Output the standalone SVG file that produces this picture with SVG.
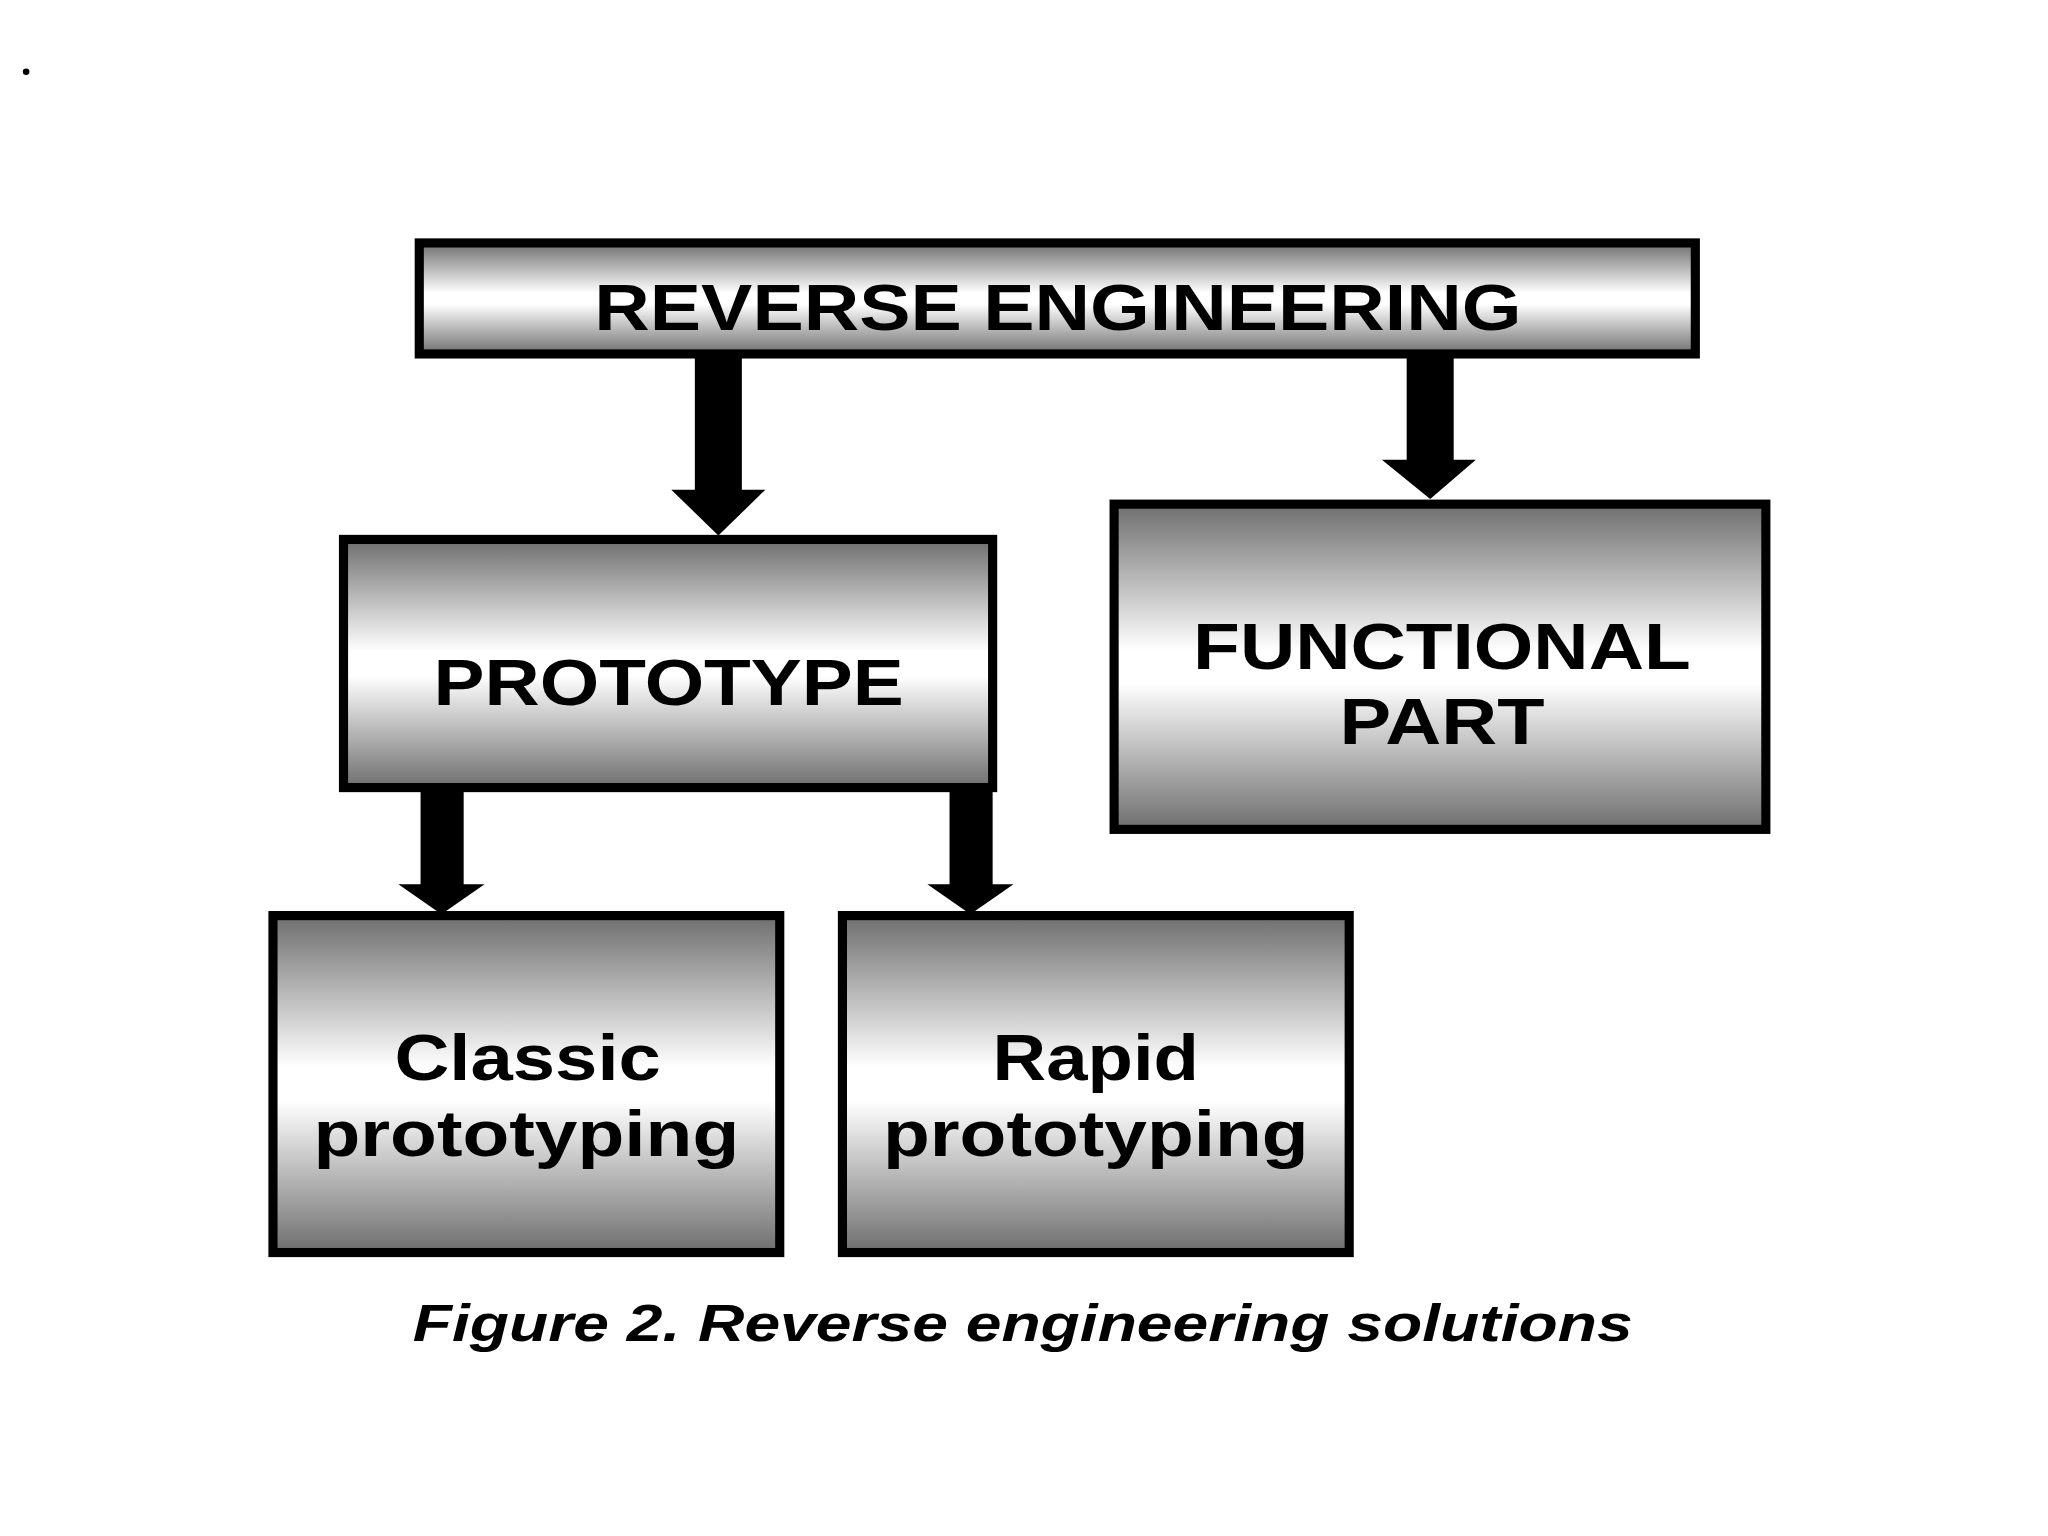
<svg xmlns="http://www.w3.org/2000/svg" width="2048" height="1536" viewBox="0 0 2048 1536">
<defs>
<linearGradient id="g" x1="0" y1="0" x2="0" y2="1">
<stop offset="0" stop-color="#6e6e6e"/><stop offset="0.45" stop-color="#ffffff"/><stop offset="0.55" stop-color="#ffffff"/><stop offset="1" stop-color="#6e6e6e"/>
</linearGradient>
<style>
.box{fill:url(#g);stroke:#000;stroke-width:7}
.t{font-family:"Liberation Sans",Arial,sans-serif;font-weight:bold;font-size:50px;text-anchor:middle;fill:#000}
.arr{fill:#000}
</style>
</defs>
<rect width="2048" height="1536" fill="#fff"/>
<g transform="scale(1.3061)">
<circle cx="20" cy="55" r="2.5" fill="#000"/>
<g id="connectors">
<polygon class="arr" points="532,271 568,271 568,375 586,375 550,410 514,375 532,375"/>
<polygon class="arr" points="1077,271 1113,271 1113,352 1130,352 1095,382 1058,352 1077,352"/>
<polygon class="arr" points="322,603 355,603 355,677 371,677 338,700 305,677 322,677"/>
<polygon class="arr" points="727,603 760,603 760,677 776,677 743,700 710,677 727,677"/>
</g>
<g id="re"><rect class="box" x="321" y="186" width="977" height="85"/>
<text class="t" x="810" y="253" textLength="710" lengthAdjust="spacingAndGlyphs">REVERSE ENGINEERING</text></g>
<g id="prototype"><rect class="box" x="263" y="413" width="497" height="190"/>
<text class="t" x="512" y="540" textLength="360" lengthAdjust="spacingAndGlyphs">PROTOTYPE</text></g>
<g id="functional"><rect class="box" x="853" y="386" width="499" height="249"/>
<text class="t" x="1104" y="512" textLength="381" lengthAdjust="spacingAndGlyphs">FUNCTIONAL</text>
<text class="t" x="1104" y="570" textLength="157" lengthAdjust="spacingAndGlyphs">PART</text></g>
<g id="classic"><rect class="box" x="209" y="701" width="388" height="258"/>
<text class="t" x="404" y="827" textLength="204" lengthAdjust="spacingAndGlyphs">Classic</text>
<text class="t" x="403" y="885" textLength="326" lengthAdjust="spacingAndGlyphs">prototyping</text></g>
<g id="rapid"><rect class="box" x="645" y="701" width="388" height="258"/>
<text class="t" x="839" y="827" textLength="158" lengthAdjust="spacingAndGlyphs">Rapid</text>
<text class="t" x="839" y="885" textLength="326" lengthAdjust="spacingAndGlyphs">prototyping</text></g>
<text x="783" y="1027" font-family="Liberation Sans,Arial,sans-serif" font-weight="bold" font-style="italic" font-size="40" text-anchor="middle" textLength="934" lengthAdjust="spacingAndGlyphs">Figure 2. Reverse engineering solutions</text>
</g>
</svg>
